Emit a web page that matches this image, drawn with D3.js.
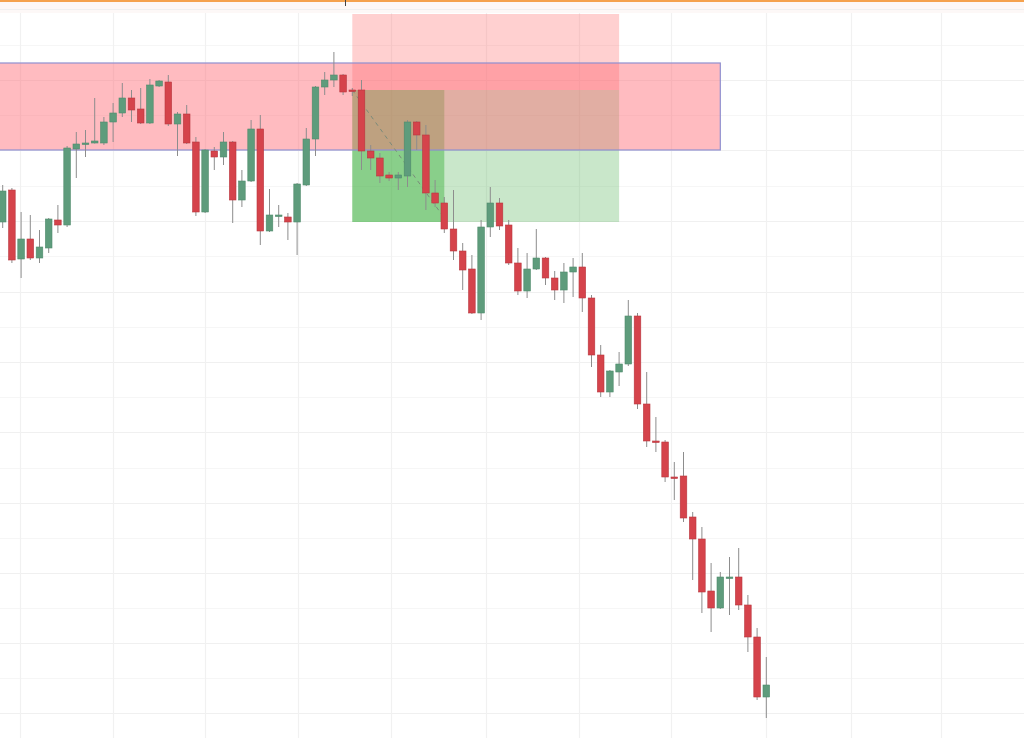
<!DOCTYPE html>
<html>
<head>
<meta charset="utf-8">
<script src="https://cdn.jsdelivr.net/npm/d3@7"></script>
<style>
  html, body { margin: 0; padding: 0; background: #ffffff; overflow: hidden; }
  svg { display: block; }
</style>
</head>
<body>
<svg id="chart" width="1024" height="738"></svg>
<script>
// ---- data (price points, arbitrary units) ----
const barIndex = d3.range(84);
const openPrices  = [578,610,541,561,542,552,580,575,651,655.5,657,657,678,687,702,691,677,714,718,676,686,658,588,649,643,658,600,619,671,569,584.5,583,578,615,661,713,720,725,710,710,649,642,625,622,624,678,665,607,597,571,549,531,487,573,597,575,537,509,531,542,522,510,528,533,502,445,408,428,436,484,396,359,358,323,324,283,261,209,192,222.5,223,195,163,103];
const highPrices  = [615,612,588,585,570,582,595,654,668,670,702,683,697,717,710,712,721,720,725,688,695,663,651,653,668,659,630,680,685,611,595,587,617,672,714,728,748,726,712,720,655,647,628,628,680,679,675,620,603,610,557,545,580,613,602,580,552,547,571,543,529,537,542,547,505,455,430,448,500,487,428,383,360,338,348,288,273,237,228,243,252,205,172,143];
const lowPrices   = [572,537,522,540,537,547,567,573,622,643,656.5,655,658,683,678,676,676,713,674,644,656,584,587,630,635,577,593,618,555,568,573,560,545,614,644,705,713,705,704,630,630,617,619,610,613,650,590,593,567,540,510,486,480,563,570,535,505,502,530,515,500,497,503,488,433,403,403,414,434,391,353,348,318,300,278,220,187,168,191,185,190,148,100,82];
const closePrices = [609,540,561,542,553,581,575,652,656,657,659,678,687,702,690,677,715,719,676,686,657,588,650,643,658,600,619,671,569,585,585,578,616,661,713,720,725,708,709,649,642,624,622,625,678,665,607,597,571,549,530,487,573,597,574,537,509,531,542,522,510,528,533,502,445,408,429,436,484,396,359,358,323,322.5,282,261,208,192,223,223,195,163,103,115];

// zones: [startIndex, endIndex, topPrice, bottomPrice]
const supplyZone   = [-2, 78, 737, 650];
const stopZone     = [38, 67, 786, 710];
const targetZone   = [38, 67, 710, 578];
const filledTarget = [38, 48, 710, 578];
const tradePath    = [[38, 710], [48, 582]];

// grid positions
const gridBars   = [1.9, 12, 22, 32.1, 42.2, 52.5, 62.6, 72.6, 83, 92.2, 102];
const gridPrices = [791, 755, 720, 685, 650, 614, 579, 544, 508, 473, 438, 403, 368, 332, 297, 262, 227, 192, 157, 122, 87, 52];

// ---- scales ----
const W = 1024, H = 738;
const x = d3.scaleLinear().domain([0, 83]).range([2.7, 766.3]);
const y = d3.scaleLinear().domain([62, 800]).range([738, 0]);

const svg = d3.select("#chart");

// top pale band
svg.append("rect").attr("x", 0).attr("y", 0).attr("width", W).attr("height", 13)
  .attr("fill", "#fdf8f7");

// grid
const grid = svg.append("g");
grid.selectAll("line.h").data(gridPrices).enter().append("line")
  .attr("x1", 0).attr("x2", W)
  .attr("y1", d => Math.round(y(d)) + 0.5).attr("y2", d => Math.round(y(d)) + 0.5)
  .attr("stroke", (d, i) => i % 2 === 0 ? "#f0f0f0" : "#f6f6f6").attr("stroke-width", 1.2);
grid.selectAll("line.v").data(gridBars).enter().append("line")
  .attr("y1", 13).attr("y2", H)
  .attr("x1", d => Math.round(x(d)) + 0.5).attr("x2", d => Math.round(x(d)) + 0.5)
  .attr("stroke", "#f1f1f1").attr("stroke-width", 1.2);

function zoneRect(z, fill) {
  return svg.append("rect")
    .attr("x", x(z[0])).attr("width", x(z[1]) - x(z[0]))
    .attr("y", y(z[2])).attr("height", y(z[3]) - y(z[2]))
    .attr("fill", fill);
}

// position tool
zoneRect(stopZone, "rgba(255,82,82,0.27)");
zoneRect(targetZone, "rgba(76,175,80,0.30)");
zoneRect(filledTarget, "rgba(50,175,50,0.42)");

// supply zone
zoneRect(supplyZone, "rgba(255,105,115,0.45)")
  .attr("stroke", "#8f8fd0").attr("stroke-width", 1.2);

// dashed trade path
svg.append("line")
  .attr("x1", x(tradePath[0][0])).attr("y1", y(tradePath[0][1]))
  .attr("x2", x(tradePath[1][0])).attr("y2", y(tradePath[1][1]))
  .attr("stroke", "#7a8a7a").attr("stroke-width", 1).attr("stroke-dasharray", "4,4");

// candles
const bw = 6.6;
const up = "#5e9c7c", down = "#d5434b";
const candles = svg.append("g");
barIndex.forEach(i => {
  const o = openPrices[i], h = highPrices[i], l = lowPrices[i], c = closePrices[i];
  const isUp = c >= o;
  const col = isUp ? up : down;
  candles.append("line")
    .attr("x1", x(i)).attr("x2", x(i))
    .attr("y1", y(h)).attr("y2", y(l))
    .attr("stroke", "#8d8d8d").attr("stroke-width", 1);
  const top = y(Math.max(o, c)), bot = y(Math.min(o, c));
  candles.append("rect")
    .attr("x", x(i) - bw / 2).attr("width", bw)
    .attr("y", top).attr("height", Math.max(1.5, bot - top))
    .attr("fill", col)
    .attr("stroke", isUp ? "#4f8a6b" : "#b8363e").attr("stroke-width", 0.6);
});

// top orange line and marker
svg.append("rect").attr("x", 0).attr("y", 0).attr("width", W).attr("height", 2).attr("fill", "#f5a24e");
svg.append("line").attr("x1", 345.5).attr("x2", 345.5).attr("y1", 0).attr("y2", 6)
  .attr("stroke", "#444").attr("stroke-width", 1);
</script>
</body>
</html>
